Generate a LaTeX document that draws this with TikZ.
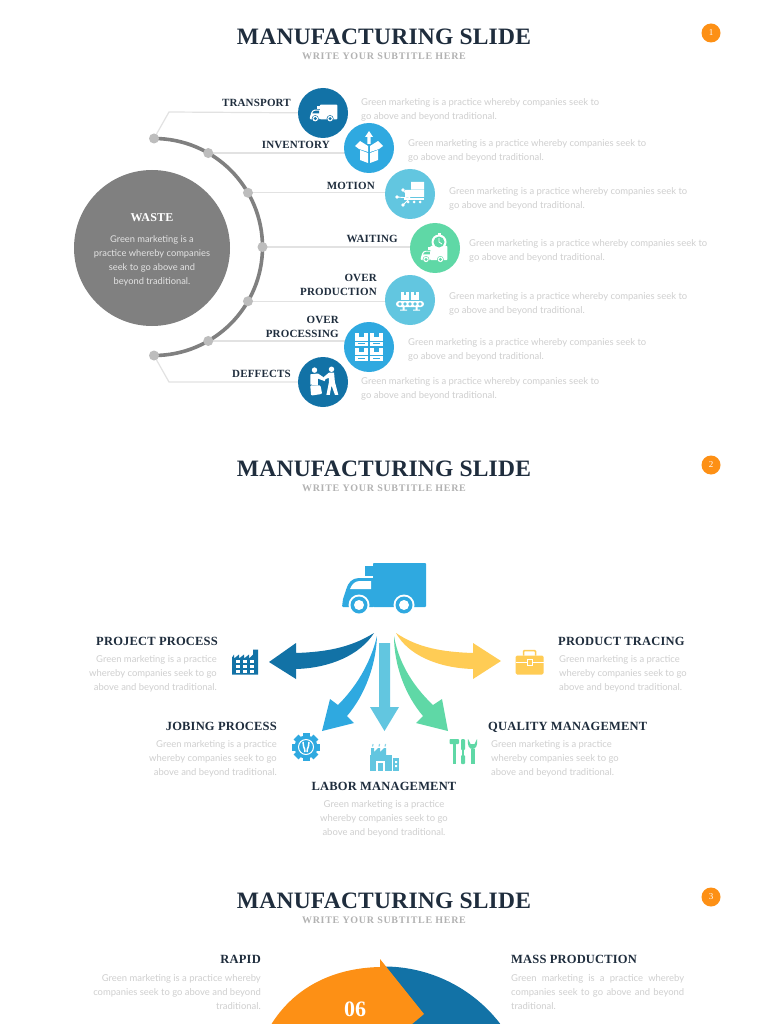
\documentclass[tikz,border=0pt]{standalone}
\usepackage{fontspec}
\usetikzlibrary{backgrounds,calc}
\setmainfont{Lato}
\newfontfamily\ttlfont[LetterSpace=1.0]{Liberation Serif}
\newfontfamily\subfont[LetterSpace=7]{Liberation Serif}
\newfontfamily\lblfont[LetterSpace=1.5]{Liberation Serif}
\newfontfamily\numfont{Liberation Serif}
\definecolor{navy}{HTML}{1F2D3D}
\definecolor{dkblue}{HTML}{1272A6}
\definecolor{midblue}{HTML}{2FA9E0}
\definecolor{ltblue}{HTML}{62C6E0}
\definecolor{mint}{HTML}{5FD8A6}
\definecolor{sun}{HTML}{FFCC55}
\definecolor{tang}{HTML}{FD9015}
\definecolor{midgray}{HTML}{808080}
\definecolor{dotgray}{HTML}{BDBDBD}
\definecolor{linegray}{HTML}{E2E2E2}
\definecolor{bodygray}{HTML}{CFCFCF}
\definecolor{subgray}{HTML}{B2B2B2}
\tikzset{
 x=1pt,y=-1pt,
 ttl/.style={font=\ttlfont\bfseries\fontsize{23.5}{23.5}\selectfont,text=navy,inner sep=0pt},
 subttl/.style={font=\subfont\bfseries\fontsize{10}{10}\selectfont,text=subgray,inner sep=0pt},
 lbl/.style={font=\lblfont\bfseries\fontsize{11}{14}\selectfont,text=navy,inner sep=0pt,align=right},
 lblb/.style={font=\lblfont\bfseries\fontsize{12.5}{15}\selectfont,text=navy,inner sep=0pt},
 body/.style={font=\fontsize{9.45}{14}\selectfont,text=bodygray,inner sep=0pt},
 pnum/.style={circle,fill=tang,minimum size=19pt,inner sep=0pt,text=white,font=\lblfont\fontsize{9}{9}\selectfont},
 iconc/.style={circle,minimum size=50pt,inner sep=0pt},
 jdot/.style={circle,fill=dotgray,minimum size=10pt,inner sep=0pt},
 conn/.style={draw=linegray,line width=1.2pt},
 pics/trk/.style 2 args={code={
  \fill[#1,rounded corners=0.8] (-11,-22) rectangle (42,22);
  \fill[#1] (-19,-19) rectangle (-10,-9);
  \fill[#1,rounded corners=1] (-10,-7) -- (-24,-7) .. controls (-32,-7) and (-36,-2) .. (-38,5) -- (-41,14) -- (-42,22) -- (-10,22) -- cycle;
  \fill[#2] (-34,4) .. controls (-32,-1) and (-29,-4) .. (-24,-4) -- (-13,-4) -- (-13,4) -- cycle;
  \fill[#2] (-25,20) circle (10.5) (20,20) circle (10.5);
  \fill[#1] (-25,20) circle (8.5) (20,20) circle (8.5);
  \fill[#2] (-25,20) circle (5) (20,20) circle (5);
 }},
 pics/factoryico/.style={code={
  \fill[#1] (-13,12) -- (-13,-5) -- (-11,-8) -- (-11,-4) -- (-6,-8) -- (-6,-4) -- (-1,-8) -- (-1,-4) -- (4,-8) -- (4,-4) -- (8,-8) -- (8,-13) -- (13,-13) -- (13,12) -- cycle;
  \foreach \yy in {-1,4,9}\foreach \xx in {-7,0,7}{\fill[white] (\xx-1.7,\yy-1.1) rectangle (\xx+1.7,\yy+1.1);}
 }},
 pics/plantico/.style={code={
  \fill[#1] (-14,13) rectangle (8,-3);
  \fill[#1] (-13,-3) -- (-13,-10) -- (-10,-10) -- (-10,-6) -- (-6,-10) -- (-4,-10) -- (-4,-6) -- (0,-10) -- (2,-10) -- (2,-3) -- cycle;
  \fill[#1] (9,0) rectangle (15,13);
  \fill[white] (-8,3) rectangle (1,13);
  \fill[#1] (-6,5) rectangle (-1,13);
  \fill[white] (11,3) rectangle (13,5) (11,7) rectangle (13,9);
  \foreach \xx in {-11.5,-5,1}{\draw[#1!70!white,line width=1.1pt] (\xx,-11.5) -- (\xx+.6,-14);}
 }},
 pics/toolbox/.style={code={
  \fill[#1,rounded corners=1.5] (-14,-7) rectangle (14,12);
  \draw[#1,line width=1.5pt,rounded corners=1] (-6,-7) -- (-6,-12) -- (6,-12) -- (6,-7);
  \draw[white,line width=.7pt] (-14,0) -- (-3,0) (3,0) -- (14,0);
  \draw[white,line width=.7pt] (-2.5,-3) rectangle (2.5,3);
 }},
 pics/gearico/.style={code={
  \foreach \a in {0,45,...,315}{\fill[#1,rotate=\a] (-3.5,-14) rectangle (3.5,0);}
  \fill[#1] (0,0) circle (11.5);
  \draw[white,line width=1pt] (0,0) circle (7.5);
  \draw[white,line width=1.5pt] (-3,-5) .. controls (-4,-1) and (-1,0) .. (-1,5) (3,-5) .. controls (4,-1) and (1,0) .. (1,5);
 }},
 pics/toolsico/.style={code={
  \fill[#1,rounded corners=.8] (-14,-13) rectangle (-4.5,-8);
  \fill[#1] (-11,-9) rectangle (-7.5,12);
  \fill[#1,rounded corners=1] (-2.5,-13) rectangle (1.5,-2);
  \fill[#1] (-1.2,-3) rectangle (.2,3);
  \fill[#1,rounded corners=1] (-2.5,3) rectangle (1.5,12);
  \fill[#1] (7,-3) rectangle (11,12);
  \fill[#1] (4.5,-13) .. controls (3.5,-6) and (6,-3) .. (9,-3) .. controls (12,-3) and (14.5,-6) .. (13.5,-13) -- (11,-8) -- (7,-8) -- cycle;
 }},
 pics/boxup/.style={code={
  \fill[#1] (-9,2) -- (-1,5) -- (-1,15) -- (-9,12) -- cycle;
  \fill[#1] (9,2) -- (1,5) -- (1,15) -- (9,12) -- cycle;
  \fill[#1] (-1,-2) -- (-9,-7) -- (-14,-2) -- (-10,1) -- (-1,4) -- cycle;
  \fill[#1] (1,-2) -- (9,-7) -- (14,-2) -- (10,1) -- (1,4) -- cycle;
  \fill[#1] (0,-17) -- (-4,-11) -- (-1.6,-11) -- (-1.6,-4) -- (1.6,-4) -- (1.6,-11) -- (4,-11) -- cycle;
 }},
 pics/flowbox/.style={code={
  \fill[#1] (1,-12) rectangle (14,-4.5) (-5,-4) rectangle (14,3);
  \fill[#1] (-6,4.5) rectangle (14,6.5);
  \fill[#1] (-2,8) circle (1.5) (4,8) circle (1.5) (10,8) circle (1.5);
  \draw[#1,line width=.9pt] (-13,3) -- (0,4) (-7,-4) -- (0,4) (-7,11) -- (0,4);
  \fill[#1] (-13,3) circle (1.8) (-7,-4) circle (1.8) (-7,11) circle (1.8);
 }},
 pics/clocktruck/.style={code={
  \pic[scale=.32] at (-1,5) {trk={white}{mint}};
  \fill[white] (4,-6) circle (7.5);
  \fill[white] (2.5,-15) rectangle (5.5,-12);
  \fill[mint] (4,-6) circle (5.5);
  \draw[white,line width=.8pt] (4,-10) -- (4,-6) -- (7,-4);
 }},
 pics/conveyor/.style={code={
  \fill[#1,rounded corners=3] (-14,1) rectangle (14,7);
  \foreach \xx in {-10,-5,0,5,10}{\fill[ltblue] (\xx,4) circle (1.8);}
  \foreach \xx in {-9,1}{\fill[#1] (\xx,-8) rectangle (\xx+8,-.5);\fill[ltblue] (\xx+2.7,-8) rectangle (\xx+5.3,-5);}
  \fill[#1] (-7.5,7) rectangle (-5.5,10) (5.5,7) rectangle (7.5,10);
  \fill[#1] (-10,9.5) rectangle (-3,10.5) (3,9.5) rectangle (10,10.5);
 }},
 pics/boxgrid/.style={code={
  \foreach \xx in {-14,1}\foreach \yy in {-14,0.5}{
   \fill[#1] (\xx,\yy) rectangle (\xx+13,\yy+13);
   \fill[midblue] (\xx+4,\yy) rectangle (\xx+9,\yy+4);
   \fill[midblue] (\xx,\yy+7.5) rectangle (\xx+13,\yy+8.5);
   \fill[midblue] (\xx+3,\yy+10) rectangle (\xx+10,\yy+11);
  }
 }},
 pics/handover/.style={code={
  \begin{scope}[scale=.85]
  \fill[#1] (-10,-14) circle (3.2) (10,-15) circle (3.2);
  \fill[#1] (-15,-9) -- (-6,-10) -- (3,-4) -- (2,-1) -- (-6,-4) -- (-6,4) -- (-15,3) -- cycle;
  \fill[#1] (7,-11) -- (13,-11) -- (14,0) -- (18,15) -- (14,15) -- (10,4) -- (8,15) -- (4,15) -- (7,0) -- (7,-5) -- (2,-3) -- (1,-6) -- cycle;
  \fill[#1,rounded corners=1] (-15,4) -- (-3,4) -- (-1,14) -- (-14,16) -- cycle;
  \end{scope}
 }},
}
\newcommand{\slidehead}[3]{%
 \node[ttl] (t#1) at (384,#2+1) {MANUFACTURING SLIDE};
 \node[subttl] (s#1) at (384,#2+20) {WRITE YOUR SUBTITLE HERE};
 \node[pnum] (n#1) at (711,#3) {#1};
}
\newcommand{\GM}{Green marketing is a practice whereby companies seek to\\go above and beyond traditional.}
\begin{document}
\begin{tikzpicture}
\useasboundingbox (0,0) rectangle (768,1024);
\clip (0,0) rectangle (768,1024);
\begin{scope}[on background layer]
 \fill[white] (0,0) rectangle (768,1024);
\end{scope}
\slidehead{1}{36}{33}
\slidehead{2}{468}{465}
\slidehead{3}{900}{897}
% ---------- slide 1
\node[circle,fill=midgray,minimum size=156pt,inner sep=0pt] (waste) at (152,248) {};
\node[font=\lblfont\bfseries\fontsize{12}{12}\selectfont,text=white,inner sep=0pt] (wastet) at (152,217.5) {WASTE};
\node[body,align=center,text=white!78!midgray,font=\fontsize{9.3}{14}\selectfont] (wasteb) at (152,261) {Green marketing is a\\practice whereby companies\\seek to go above and\\beyond traditional.};
\foreach \n/\a in {1/-90,2/-60,3/-30,4/0,5/30,6/60,7/90}{
 \node[jdot] (d\n) at ($(154,247)+(\a:108.5)$) {};
}
\node[iconc,fill=dkblue] (c1) at (323,113) {};
\node[iconc,fill=midblue] (c2) at (369,148) {};
\node[iconc,fill=ltblue] (c3) at (410,194) {};
\node[iconc,fill=mint] (c4) at (435,248) {};
\node[iconc,fill=ltblue] (c5) at (410,300) {};
\node[iconc,fill=midblue] (c6) at (369,347) {};
\node[iconc,fill=dkblue] (c7) at (323,382) {};
\coordinate (k1) at (169,112);
\coordinate (k7) at (169,382);
\begin{scope}[on background layer]
 \draw[conn] (d1.center) -- (k1) -- (c1.center);
 \draw[conn] (d2.center) -- (d2.center -| c2.center);
 \draw[conn] (d3.center) -- (d3.center -| c3.center);
 \draw[conn] (d4.center) -- (d4.center -| c4.center);
 \draw[conn] (d5.center) -- (d5.center -| c5.center);
 \draw[conn] (d6.center) -- (d6.center -| c6.center);
 \draw[conn] (d7.center) -- (k7) -- (c7.center);
 \draw[midgray,line width=3.6pt] (d1.center) arc[start angle=-90,end angle=90,radius=108.5];
\end{scope}
\pic[scale=.33] at (323.5,112) {trk={white}{dkblue}};
\pic at (369,148) {boxup=white};
\pic at (410,194) {flowbox=white};
\pic at (435,248) {clocktruck};
\pic at (410,300) {conveyor=white};
\pic at (369,347) {boxgrid=white};
\pic at (323,382) {handover=white};
\node[lbl,anchor=east] (l1) at (291,103) {TRANSPORT};
\node[lbl,anchor=east] (l2) at (330,145) {INVENTORY};
\node[lbl,anchor=east] (l3) at (375,186) {MOTION};
\node[lbl,anchor=east] (l4) at (398,239) {WAITING};
\node[lbl,anchor=east] (l5) at (377,285) {OVER\\PRODUCTION};
\node[lbl,anchor=east] (l6) at (339,326.5) {OVER\\PROCESSING};
\node[lbl,anchor=east] (l7) at (291,374) {DEFFECTS};
\node[body,anchor=west,align=left] (b1) at (361,109.5) {\GM};
\node[body,anchor=west,align=left] (b2) at (408,150.5) {\GM};
\node[body,anchor=west,align=left] (b3) at (449,198.5) {\GM};
\node[body,anchor=west,align=left] (b4) at (469,250.5) {\GM};
\node[body,anchor=west,align=left] (b5) at (449,304) {\GM};
\node[body,anchor=west,align=left] (b6) at (408,349.5) {\GM};
\node[body,anchor=west,align=left] (b7) at (361,389) {\GM};
% ---------- slide 2
\pic at (384,585) {trk={midblue}{white}};
% arrows
\fill[dkblue] (374,633) .. controls (350,648) and (325,652) .. (296,653) -- (296,643) -- (269,662) -- (296,679) -- (296,669) .. controls (330,668) and (360,655) .. (374,633) -- cycle;
\fill[sun] (396,633) .. controls (418,648) and (443,652) .. (473,653) -- (473,643) -- (501,661) -- (473,679) -- (473,669) .. controls (438,668) and (408,655) .. (396,633) -- cycle;
\fill[midblue] (377,636) .. controls (370,665) and (355,688) .. (338,705) -- (330,699) -- (322,731) -- (354,723) -- (347,716) .. controls (365,695) and (376,665) .. (377,636) -- cycle;
\fill[mint] (394,636) .. controls (399,665) and (415,688) .. (433,705) -- (442,699) -- (448,731) -- (416,723) -- (423,716) .. controls (405,695) and (394,665) .. (394,636) -- cycle;
\fill[ltblue] (379,643) -- (390,643) -- (390,707) -- (399,707) -- (384.5,731) -- (370,707) -- (379,707) -- cycle;
\pic at (245,662.5) {factoryico=dkblue};
\pic at (529.5,662.5) {toolbox=sun};
\pic at (306,747) {gearico=midblue};
\pic at (384,758) {plantico=ltblue};
\pic at (463.5,752) {toolsico=mint};
\node[lblb,anchor=east] (h1) at (218,641) {PROJECT PROCESS};
\node[lblb,anchor=west] (h2) at (558,641) {PRODUCT TRACING};
\node[lblb,anchor=east] (h3) at (277,726) {JOBING PROCESS};
\node[lblb,anchor=west] (h4) at (488,727) {QUALITY MANAGEMENT};
\node[lblb] (h5) at (384,786) {LABOR MANAGEMENT};
\node[body,anchor=east,align=right] (p1) at (217,674) {Green marketing is a practice\\whereby companies seek to go\\above and beyond traditional.};
\node[body,anchor=west,align=left] (p2) at (559,674) {Green marketing is a practice\\whereby companies seek to go\\above and beyond traditional.};
\node[body,anchor=east,align=right] (p3) at (277,759) {Green marketing is a practice\\whereby companies seek to go\\above and beyond traditional.};
\node[body,anchor=west,align=left] (p4) at (491,759) {Green marketing is a practice\\whereby companies seek to go\\above and beyond traditional.};
\node[body,align=center] (p5) at (384,819) {Green marketing is a practice\\whereby companies seek to go\\above and beyond traditional.};
% ---------- slide 3
\fill[dkblue] (384,966.5) arc[start angle=-90,end angle=-37.5,radius=146.5] -- (384,1113) -- cycle;
\fill[tang] (268,1030) .. controls (290,990) and (330,968) .. (380,967) -- (380,959) -- (424,1014) -- (405,1030) -- cycle;
\node[font=\numfont\bfseries\fontsize{22}{22}\selectfont,text=white,inner sep=0pt] (num) at (355,1009) {06};
\node[lblb,anchor=east] (r1) at (261,959) {RAPID};
\node[lblb,anchor=west] (r2) at (511,959) {MASS PRODUCTION};
\node[body,anchor=north east,align=right] (r3) at (261,974) {Green marketing is a practice whereby\\companies seek to go above and beyond\\traditional.};
\node[body,anchor=north west,text width=173pt,align=justify] (r4) at (511,974) {Green marketing is a practice whereby companies seek to go above and beyond traditional.};
\end{tikzpicture}
\end{document}
